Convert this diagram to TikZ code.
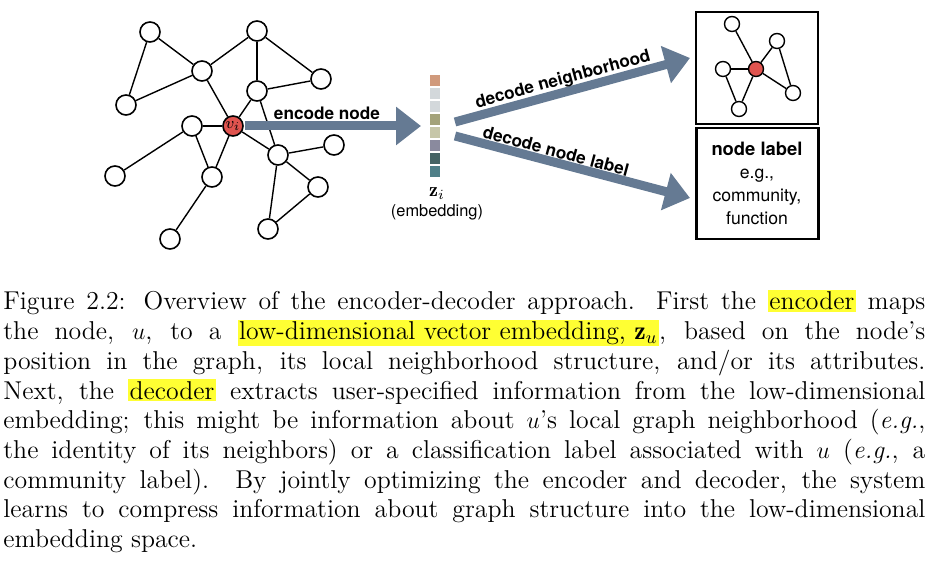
\documentclass[tikz,border=0pt]{standalone}
\usepackage{fontspec}
\usetikzlibrary{arrows.meta}
\newfontfamily\hv{TeX Gyre Heros}
\definecolor{arr}{HTML}{657A93}
\definecolor{vred}{HTML}{E0544F}
\pgfdeclarelayer{bg}
\pgfsetlayers{bg,main}
\begin{document}
\begin{tikzpicture}[x=0.5pt,y=-0.5pt,
  gn/.style={circle,draw,line width=0.8pt,fill=white,minimum size=10pt,inner sep=0pt},
  sn/.style={circle,draw,line width=0.7pt,fill=white,minimum size=7.5pt,inner sep=0pt},
  ed/.style={line width=0.7pt},
  bigarr/.style={draw=arr,line width=4.5pt,-{Triangle[length=12.5pt,width=18.5pt]}},
  lbl/.style={font=\hv\bfseries\fontsize{8.6}{9}\selectfont,inner sep=1pt},
  cell/.style={minimum width=5.5pt,minimum height=6.3pt,inner sep=0pt,draw=white,line width=0.3pt}]
\useasboundingbox (0,0) rectangle (931,581);
% graph
\node[gn] (A) at (150,32) {};
\node[gn] (B) at (257,31) {};
\node[gn] (C) at (202,71) {};
\node[gn] (D) at (321,79) {};
\node[gn] (E) at (126,105) {};
\node[gn] (F) at (257,91) {};
\node[gn,fill=vred] (G) at (233,126) {};
\node[gn] (H) at (192,126) {};
\node[gn] (I) at (334,145) {};
\node[gn] (J) at (278,155) {};
\node[gn] (K) at (115,176) {};
\node[gn] (L) at (212,177) {};
\node[gn] (M) at (318,187) {};
\node[gn] (N) at (170,239) {};
\node[gn] (O) at (268,229) {};
\node[font=\fontsize{8}{8}\selectfont] (Gl) at (G) {$v_i$};
\begin{pgfonlayer}{bg}
\foreach \a/\b in {A/C,A/E,E/C,C/B,B/D,B/F,F/D,C/G,F/G,F/J,G/H,G/L,G/J,H/L,H/K,L/N,J/I,J/O,J/M,M/O}
  \draw[ed] (\a) -- (\b);
\end{pgfonlayer}
% embedding
\foreach \i/\c in {0/D09A7C,1/D3D8DB,2/D3D8DB,3/A3A27A,4/C6C6A8,5/8A8A9E,6/456465,7/4F7F88}{
  \definecolor{cc}{HTML}{\c}
  \node[cell,fill=cc] (e\i) at (435,{80.5+13*\i}) {};
}
\node (z) at (437,194) {$\mathbf{z}_i$};
\node[font=\hv\fontsize{8.2}{9}\selectfont] (emb) at (437,212) {(embedding)};
% arrows
\coordinate (encs) at (245,126);
\coordinate (ence) at (421,126);
\draw[bigarr] (encs) -- (ence);
\node[lbl] (encl) at (327,113) {encode node};
\coordinate (d1s) at (455,122);
\coordinate (d1e) at (690,58);
\draw[bigarr] (d1s) -- (d1e);
\node[lbl,rotate=15.2] (d1l) at (563,80) {decode neighborhood};
\coordinate (d2s) at (455,136);
\coordinate (d2e) at (690,198);
\draw[bigarr] (d2s) -- (d2e);
\node[lbl,rotate=-15] (d2l) at (556,151) {decode node label};
% boxes
\node[draw,line width=1.1pt,minimum width=61pt,minimum height=56pt,inner sep=0pt] (box1) at (757,68) {};
\node[draw,line width=1.1pt,minimum width=61pt,minimum height=55.5pt,inner sep=0pt] (box2) at (757.5,183.5) {};
\node[align=center,inner sep=0pt] (box2t) at (757,183) {{\hv\bfseries\fontsize{9.2}{10}\selectfont node label}\\[-0.5pt]{\hv\fontsize{8.8}{10}\selectfont e.g.,}\\[-0.5pt]{\hv\fontsize{8.8}{10}\selectfont community,}\\[-0.5pt]{\hv\fontsize{8.8}{10}\selectfont function}};
% small graph
\node[sn] (s1) at (732,24) {};
\node[sn] (s2) at (777,41) {};
\node[sn] (s3) at (723,69) {};
\node[sn,fill=vred] (s4) at (756,69) {};
\node[sn] (s5) at (793,93) {};
\node[sn] (s6) at (739,109) {};
\begin{pgfonlayer}{bg}
\foreach \a/\b in {s1/s4,s4/s3,s4/s2,s2/s5,s4/s5,s3/s6,s4/s6}
  \draw[ed] (\a) -- (\b);
\end{pgfonlayer}
% caption
\definecolor{hl}{HTML}{FFFF33}
\node[anchor=north west,inner sep=0pt,text width=461pt,align=justify,font=\fontsize{12.9}{14.85}\selectfont] (cap) at (3,290) {%
\setlength{\fboxsep}{0.8pt}%
Figure 2.2: Overview of the encoder-decoder approach. First the \colorbox{hl}{encoder} maps\linebreak
the node, $u$, to a \colorbox{hl}{low-dimensional vector embedding, $\mathbf{z}_u$}, based on the node's\linebreak
position in the graph, its local neighborhood structure, and/or its attributes.\linebreak
Next, the \colorbox{hl}{decoder} extracts user-specified information from the low-dimensional\linebreak
embedding; this might be information about $u$'s local graph neighborhood (\emph{e.g.},\linebreak
the identity of its neighbors) or a classification label associated with $u$ (\emph{e.g.}, a\linebreak
community label). By jointly optimizing the encoder and decoder, the system\linebreak
learns to compress information about graph structure into the low-dimensional\linebreak
embedding space.};
\end{tikzpicture}
\end{document}
